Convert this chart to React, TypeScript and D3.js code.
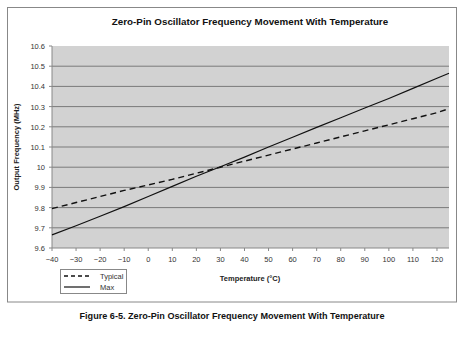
import React from "react";
import * as d3 from "d3";

const temps = [-40, -30, -20, -10, 0, 10, 20, 30, 40, 50, 60, 70, 80, 90, 100, 110, 120, 125];
const typicalValues = [9.795, 9.825, 9.855, 9.885, 9.912, 9.94, 9.97, 10.0, 10.03, 10.06, 10.09, 10.12, 10.15, 10.18, 10.21, 10.24, 10.27, 10.29];
const maxValues = [9.665, 9.71, 9.757, 9.805, 9.855, 9.905, 9.955, 10.002, 10.05, 10.1, 10.148, 10.197, 10.245, 10.293, 10.34, 10.39, 10.44, 10.465];
const xTicks = [-40, -30, -20, -10, 0, 10, 20, 30, 40, 50, 60, 70, 80, 90, 100, 110, 120];
const yTicks = [9.6, 9.7, 9.8, 9.9, 10, 10.1, 10.2, 10.3, 10.4, 10.5, 10.6];
const legendLabels = ["Typical", "Max"];

const W = 474, H = 340;
const plot = { left: 52, right: 449, top: 46, bottom: 248 };
const font = "Arial, 'Liberation Sans', Helvetica, sans-serif";

export default function App() {
  const x = d3.scaleLinear().domain([-40, 125]).range([plot.left, plot.right]);
  const y = d3.scaleLinear().domain([9.6, 10.6]).range([plot.bottom, plot.top]);
  const line = d3
    .line<number>()
    .x((_, i) => x(temps[i]))
    .y((d) => y(d));
  const fmtY = (v: number) => (Number.isInteger(v) ? String(v) : v.toFixed(1));
  const fmtX = (v: number) => (v < 0 ? "\u2212" + Math.abs(v) : String(v));

  return (
    <svg width={W} height={H} style={{ position: "absolute", left: 0, top: 0, background: "#fff" }} fontFamily={font}>
      <rect x={7.5} y={7.5} width={449} height={294.5} fill="#fff" stroke="#888" strokeWidth={1} />
      <text x={250} y={25} textAnchor="middle" fontSize={9.8} fontWeight="bold" fill="#111">
        Zero-Pin Oscillator Frequency Movement With Temperature
      </text>
      <rect x={plot.left} y={plot.top} width={plot.right - plot.left} height={plot.bottom - plot.top} fill="#d2d2d2" />
      {yTicks.map((t) => (
        <g key={t}>
          {t > 9.6 && t < 10.6 && (
            <line x1={plot.left} x2={plot.right} y1={y(t)} y2={y(t)} stroke="#7a7a7a" strokeWidth={1} />
          )}
          <line x1={plot.left - 3} x2={plot.left} y1={y(t)} y2={y(t)} stroke="#888" />
          <text x={plot.left - 7} y={y(t) + 3} textAnchor="end" fontSize={7.5} fill="#333">
            {fmtY(t)}
          </text>
        </g>
      ))}
      <line x1={plot.left} x2={plot.left} y1={plot.top} y2={plot.bottom} stroke="#888" />
      <line x1={plot.left} x2={plot.right} y1={plot.bottom} y2={plot.bottom} stroke="#888" />
      {xTicks.map((t) => (
        <g key={t}>
          <line x1={x(t)} x2={x(t)} y1={plot.bottom} y2={plot.bottom + 3} stroke="#888" />
          <text x={x(t)} y={plot.bottom + 14} textAnchor="middle" fontSize={7.5} fill="#333">
            {fmtX(t)}
          </text>
        </g>
      ))}
      <path d={line(typicalValues) || ""} fill="none" stroke="#111" strokeWidth={1.4} strokeDasharray="6,4" />
      <path d={line(maxValues) || ""} fill="none" stroke="#111" strokeWidth={1.2} />
      <text transform={`translate(19,${(plot.top + plot.bottom) / 2}) rotate(-90)`} textAnchor="middle" fontSize={7.5} fontWeight="bold" fill="#222">
        Output Frequency (MHz)
      </text>
      <text x={250} y={281} textAnchor="middle" fontSize={7.5} fontWeight="bold" fill="#222">
        Temperature (°C)
      </text>
      <rect x={60.5} y={269.5} width={66} height={24} fill="#fff" stroke="#888" />
      <line x1={64} x2={90} y1={276} y2={276} stroke="#111" strokeWidth={1.4} strokeDasharray="4,3" />
      <line x1={64} x2={90} y1={287} y2={287} stroke="#111" strokeWidth={1.2} />
      <text x={100} y={279} fontSize={7.5} fill="#333">{legendLabels[0]}</text>
      <text x={100} y={290} fontSize={7.5} fill="#333">{legendLabels[1]}</text>
      <text x={232} y={319} textAnchor="middle" fontSize={9.1} fontWeight="bold" fill="#111">
        Figure 6-5. Zero-Pin Oscillator Frequency Movement With Temperature
      </text>
    </svg>
  );
}
